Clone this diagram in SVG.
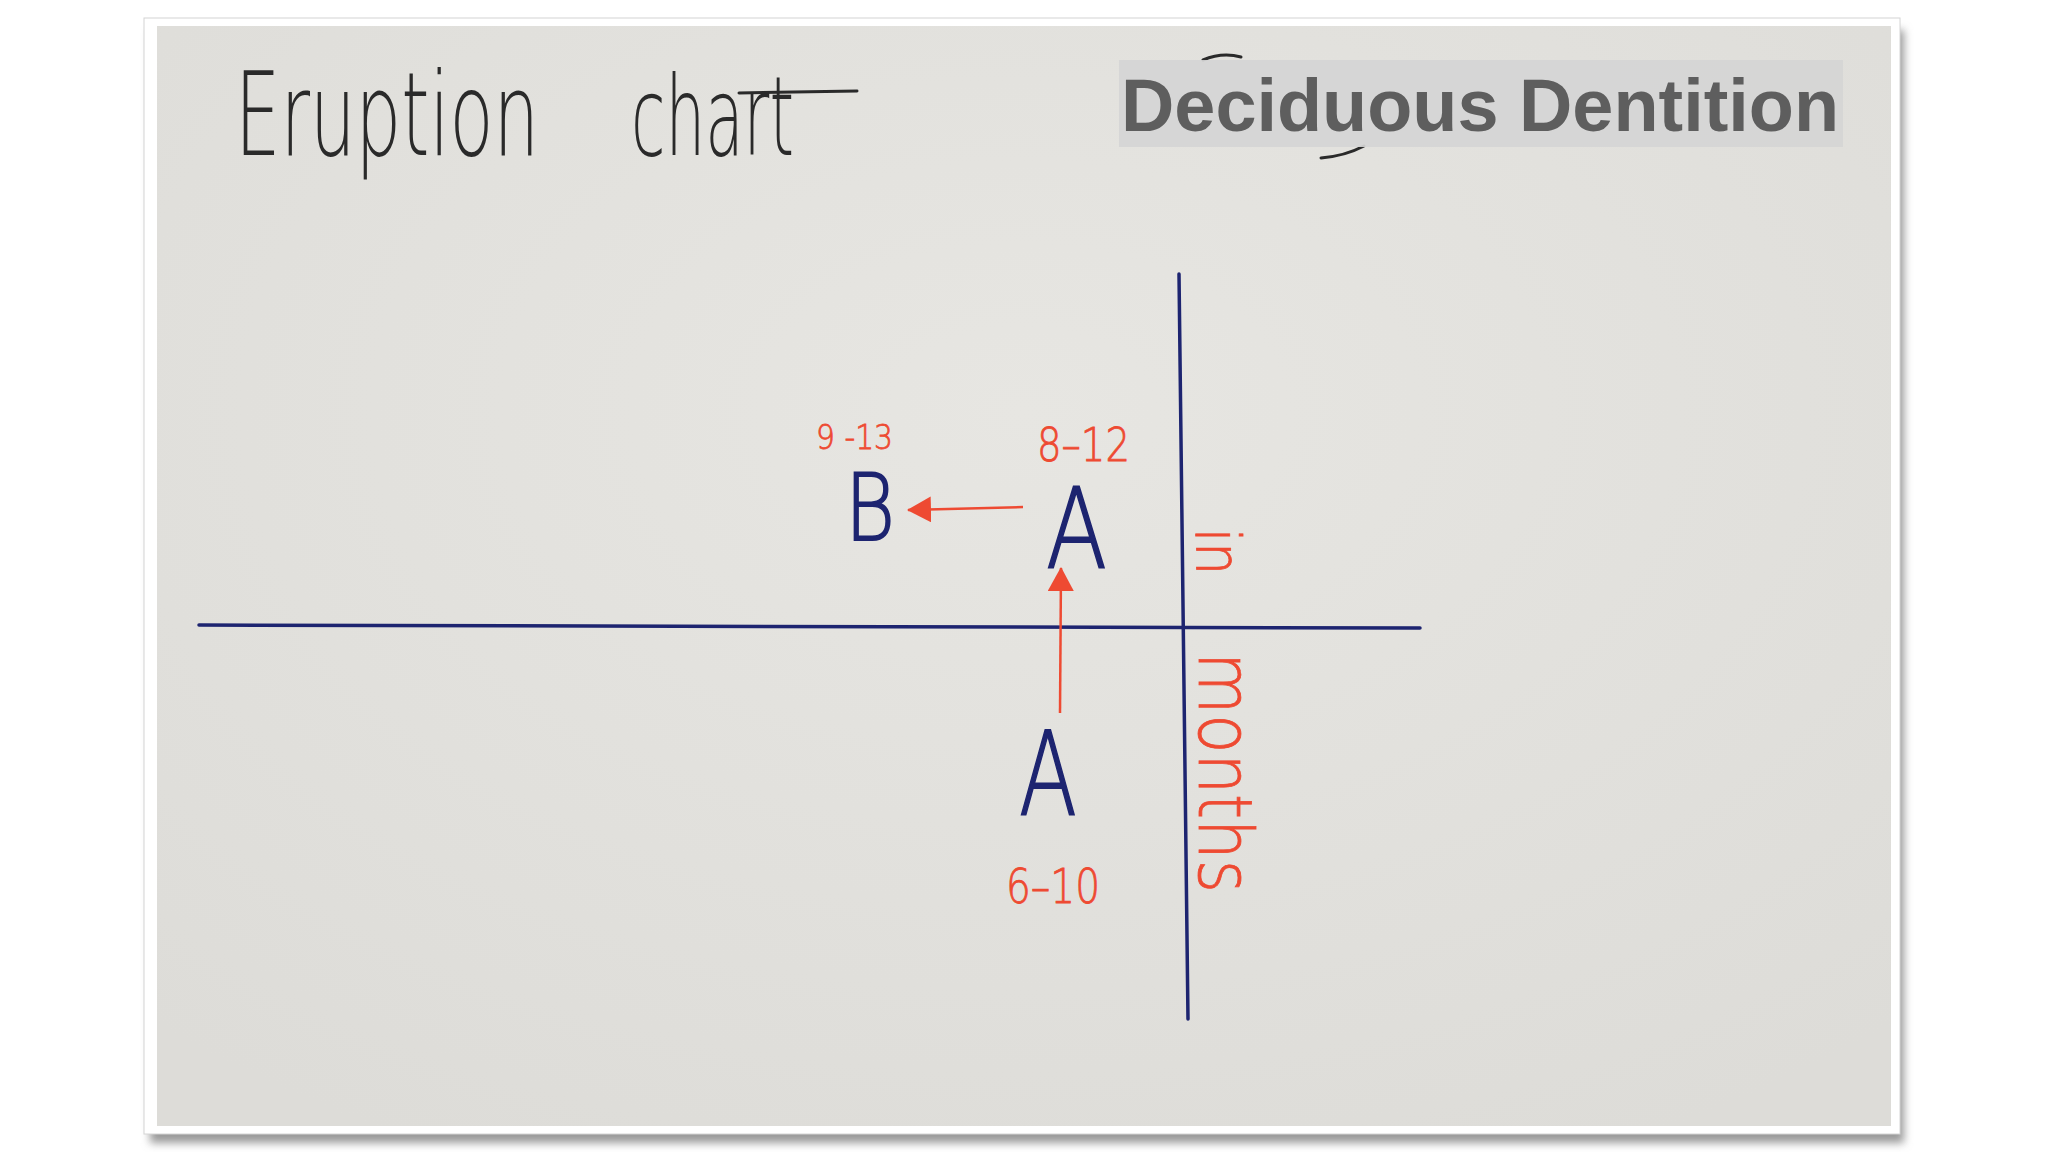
<svg xmlns="http://www.w3.org/2000/svg" width="2048" height="1152" viewBox="0 0 2048 1152">
  <defs>
    <style>
      .hand { font-family: "DejaVu Sans", "Liberation Sans", sans-serif; font-weight: 200; }
      .ink { fill: #2a2a2a; }
      .navy { fill: #1d2470; stroke: #1d2470; stroke-width: 1.8; }
      .red { fill: #ee4a32; stroke: #ee4a32; stroke-width: 0.8; }
      .axis { stroke: #1d2470; stroke-width: 3.5; stroke-linecap: round; fill: none; }
      .arrow { stroke: #ee4a32; stroke-width: 2.5; fill: none; marker-end: url(#head); }
      .pen { stroke: #2a2a2a; stroke-width: 3; fill: none; stroke-linecap: round; }
      .hdr { font-family: "Liberation Sans", Arial, sans-serif; font-weight: bold; fill: #5e5e5e; }
    </style>
    <marker id="head" markerUnits="userSpaceOnUse" viewBox="0 0 24 26" markerWidth="24" markerHeight="26" refX="23" refY="13" orient="auto">
      <path d="M0,0 L24,13 L0,26 Z" fill="#ee4a32"/>
    </marker>
    <radialGradient id="paper" cx="0.5" cy="0.35" r="0.75">
      <stop offset="0" stop-color="#e7e6e2"/>
      <stop offset="1" stop-color="#dddcd8"/>
    </radialGradient>
    <filter id="shadow" x="-5%" y="-5%" width="110%" height="110%">
      <feGaussianBlur stdDeviation="4"/>
    </filter>
  </defs>

  <rect x="0" y="0" width="2048" height="1152" fill="#ffffff"/>

  <g id="frame">
    <rect x="150" y="30" width="1754" height="1113" fill="#9a9a9a" filter="url(#shadow)"/>
    <rect x="144" y="18" width="1756" height="1116" fill="#ffffff" stroke="#d4d4d4" stroke-width="1"/>
    <rect x="157" y="26" width="1734" height="1100" fill="url(#paper)"/>
  </g>

  <g id="title">
    <text class="hand ink" transform="translate(235,155) scale(0.62,1)" x="0" y="0" font-size="116">Eruption</text>
    <text class="hand ink" transform="translate(631,155) scale(0.57,1)" x="0" y="0" font-size="110">chart</text>
    <path class="pen" d="M739,93 L857,91"/>
    <path class="pen" d="M1203,60 Q1222,52 1241,57"/>
    <path class="pen" d="M1321,158 Q1345,156 1364,146"/>
  </g>

  <g id="header">
    <rect x="1119" y="60" width="724" height="87" fill="#d5d5d5" fill-opacity="0.92"/>
    <text class="hdr" x="1121" y="131" font-size="74" textLength="718" lengthAdjust="spacingAndGlyphs">Deciduous Dentition</text>
  </g>

  <g id="axes">
    <path class="axis" d="M199,625 L1420,628"/>
    <path class="axis" d="M1179,274 L1188,1019"/>
  </g>

  <g id="axis-labels">
    <text class="hand red" transform="translate(1196,528) rotate(90)" font-size="62" textLength="47" lengthAdjust="spacingAndGlyphs">in</text>
    <text class="hand red" transform="translate(1199,652) rotate(90)" font-size="74" textLength="241" lengthAdjust="spacingAndGlyphs">months</text>
  </g>

  <g id="node-B">
    <text class="hand navy" x="845" y="540" font-size="93" textLength="50" lengthAdjust="spacingAndGlyphs">B</text>
    <text class="hand red" x="816" y="449" font-size="33" textLength="77" lengthAdjust="spacingAndGlyphs">9 -13</text>
  </g>

  <g id="node-A-upper">
    <text class="hand navy" x="1046" y="567" font-size="111" textLength="61" lengthAdjust="spacingAndGlyphs">A</text>
    <text class="hand red" x="1037" y="461" font-size="47" textLength="93" lengthAdjust="spacingAndGlyphs">8–12</text>
  </g>

  <g id="node-A-lower">
    <text class="hand navy" x="1019" y="815" font-size="116" textLength="58" lengthAdjust="spacingAndGlyphs">A</text>
    <text class="hand red" x="1006" y="903" font-size="48" textLength="94" lengthAdjust="spacingAndGlyphs">6–10</text>
  </g>

  <g id="connectors">
    <path class="arrow" d="M1023,507 L908,510"/>
    <path class="arrow" d="M1060,713 L1061,568"/>
  </g>
</svg>
